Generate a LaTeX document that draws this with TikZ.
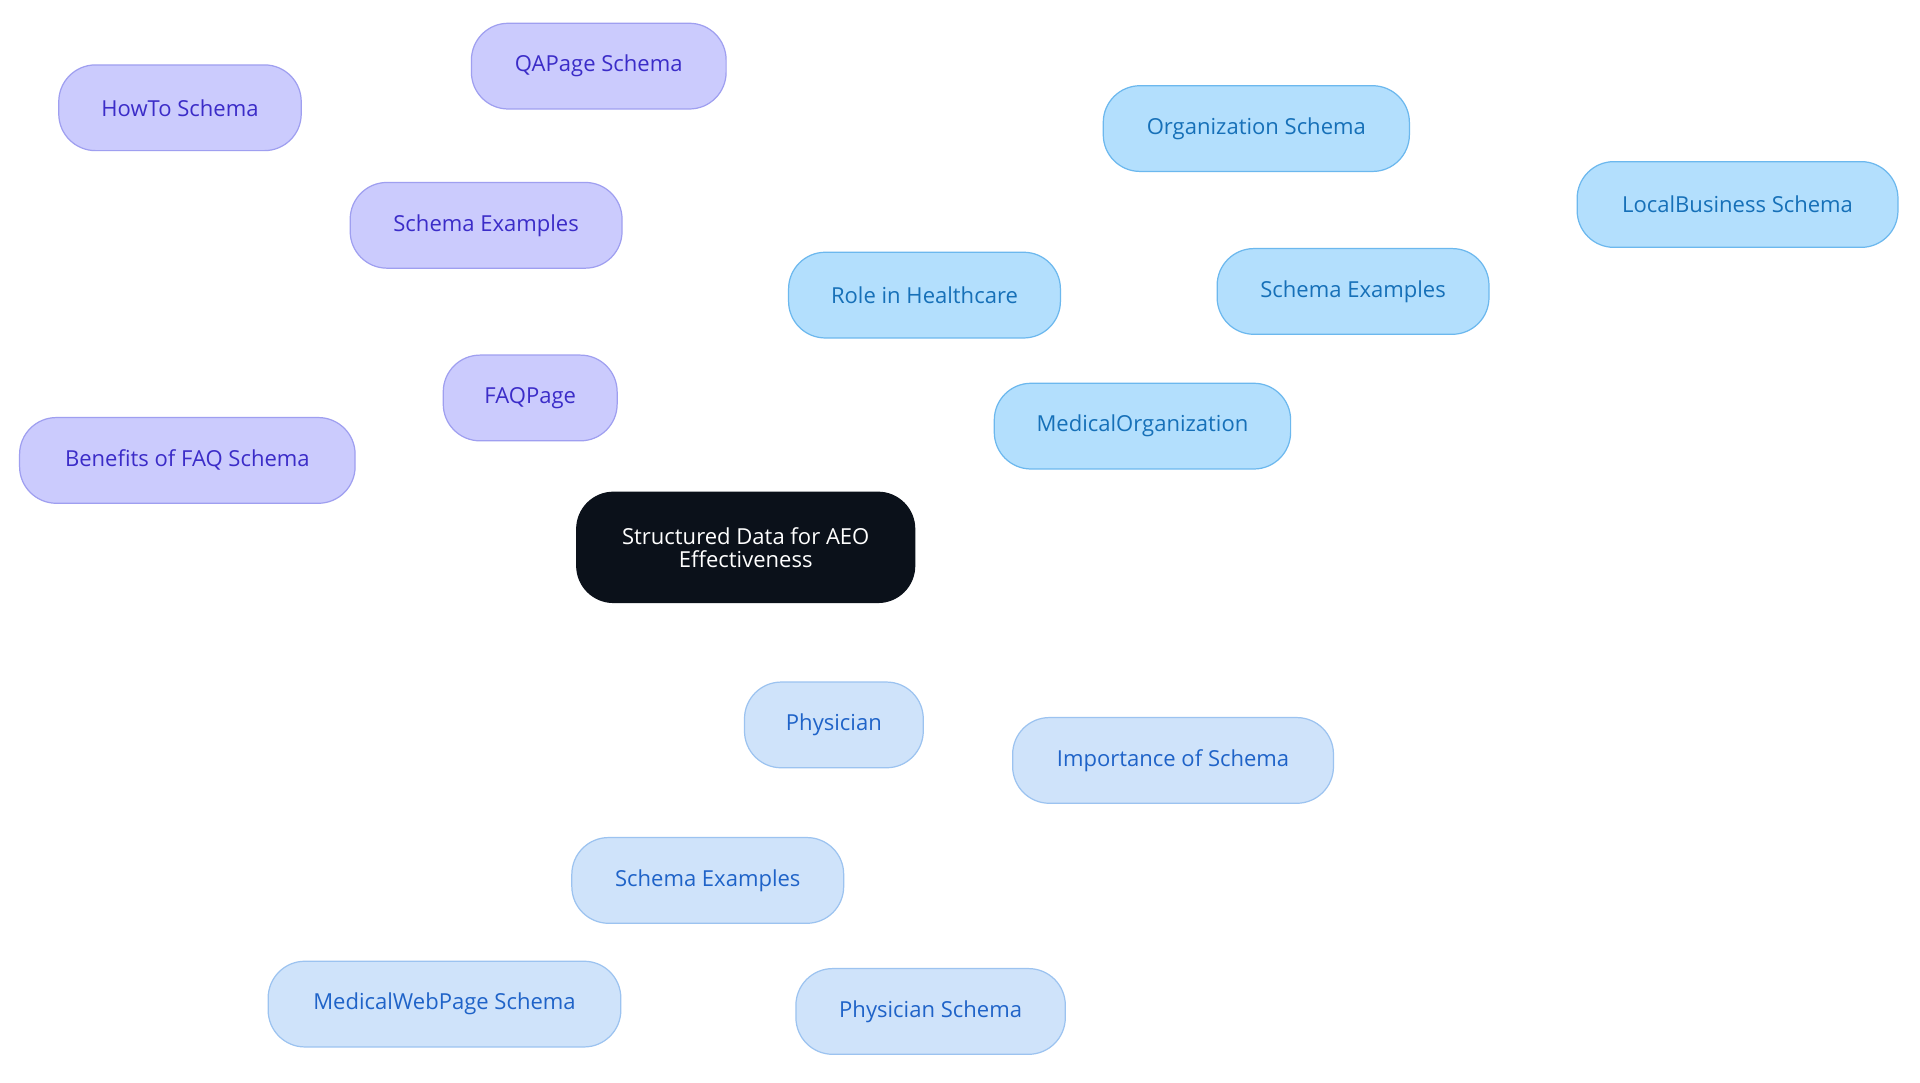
\documentclass[tikz,border=0pt]{standalone}
\usepackage{fontspec}
\setmainfont{Open Sans}
\usetikzlibrary{backgrounds}
\definecolor{pf}{HTML}{CBCBFD}\definecolor{ps}{HTML}{9F9FF0}\definecolor{pt}{HTML}{3B2CC8}
\definecolor{bf}{HTML}{B3DFFD}\definecolor{bs}{HTML}{6CB8EE}\definecolor{bt}{HTML}{1670B8}
\definecolor{lf}{HTML}{CFE3FA}\definecolor{ls}{HTML}{9CC3F0}\definecolor{lt}{HTML}{1F63C8}
\definecolor{cf}{HTML}{0B111A}
\begin{document}
\begin{tikzpicture}[x=1pt,y=-1pt,
 base/.style={rounded corners=30pt,minimum height=70pt,line width=1pt,align=center,font=\fontsize{18}{22}\selectfont},
 P/.style={base,fill=pf,draw=ps,text=pt},
 B/.style={base,fill=bf,draw=bs,text=bt},
 L/.style={base,fill=lf,draw=ls,text=lt},
 pe/.style={draw=ps,line width=2.5pt},
 be/.style={draw=bs,line width=2.5pt},
 le/.style={draw=ls,line width=2.5pt}]
\useasboundingbox[fill=white] (0,0) rectangle (1568,884);
\node[base,fill=cf,draw=cf,text=white,minimum width=276pt,minimum height=90pt] (c) at (609,447) {Structured Data for AEO\\[-3pt]Effectiveness};
\node[P,minimum width=142pt] (faq) at (433,325) {FAQPage};
\node[P,minimum width=274pt] (ben) at (153,376) {Benefits of FAQ Schema};
\node[P,minimum width=222pt] (pse) at (397,184) {Schema Examples};
\node[P,minimum width=198pt] (how) at (147,88) {HowTo Schema};
\node[P,minimum width=208pt] (qa) at (489,54) {QAPage Schema};
\node[B,minimum width=242pt] (mo) at (933,348) {MedicalOrganization};
\node[B,minimum width=222pt] (role) at (755,241) {Role in Healthcare};
\node[B,minimum width=222pt] (bse) at (1105,238) {Schema Examples};
\node[B,minimum width=250pt] (org) at (1026,105) {Organization Schema};
\node[B,minimum width=262pt] (lb) at (1419,167) {LocalBusiness Schema};
\node[L,minimum width=146pt] (phy) at (681,592) {Physician};
\node[L,minimum width=262pt] (imp) at (958,621) {Importance of Schema};
\node[L,minimum width=222pt] (lse) at (578,719) {Schema Examples};
\node[L,minimum width=288pt] (mwp) at (363,820) {MedicalWebPage Schema};
\node[L,minimum width=220pt] (ps) at (760,826) {Physician Schema};
\begin{scope}[on background layer]
\draw[pe] (c) -- (faq); \draw[pe] (faq) -- (ben); \draw[pe] (faq) -- (pse);
\draw[pe] (pse) -- (how); \draw[pe] (pse) -- (qa);
\draw[be] (c) -- (mo); \draw[be] (mo) -- (role); \draw[be] (mo) -- (bse);
\draw[be] (bse) -- (org); \draw[be] (bse) -- (lb);
\draw[le] (c) -- (phy); \draw[le] (phy) -- (imp); \draw[le] (phy) -- (lse);
\draw[le] (lse) -- (mwp); \draw[le] (lse) -- (ps);
\end{scope}
\end{tikzpicture}
\end{document}
